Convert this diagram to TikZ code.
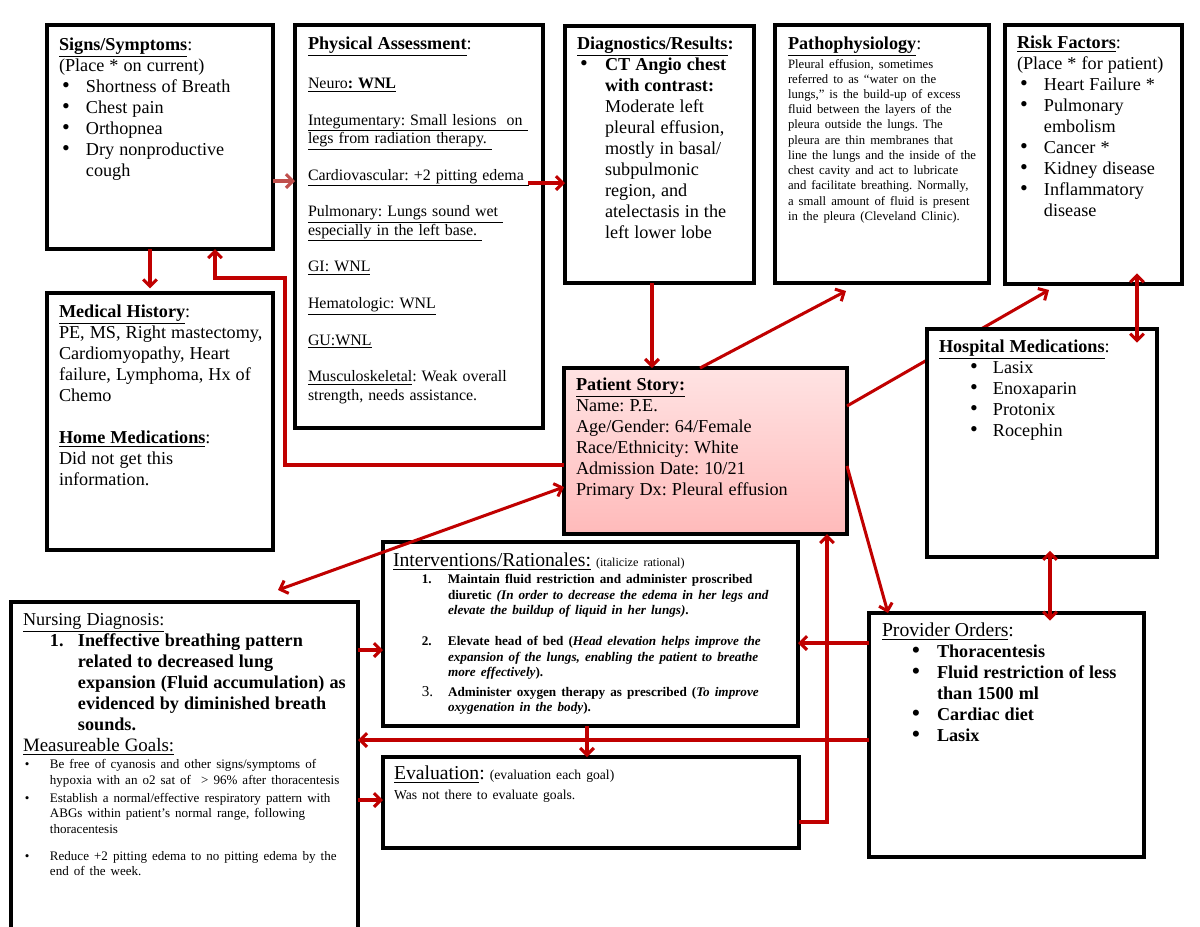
\documentclass[tikz,border=0pt]{standalone}
\usepackage{fontspec}
\setmainfont{Liberation Serif}
\usetikzlibrary{arrows.meta,fit,shadows}
\setlength{\parindent}{0pt}
\frenchspacing
\definecolor{cr}{RGB}{192,0,0}
\definecolor{cl}{RGB}{192,80,77}
\newcommand\fA{\fontsize{12}{13.86}\selectfont}
\newcommand\fT{\fontsize{13}{13.86}\selectfont}
\newcommand\fB{\fontsize{10.5}{12.1}\selectfont}
\newcommand\fC{\fontsize{9}{10.25}\selectfont}
\newcommand\fI{\fontsize{8.7}{10.25}\selectfont}
\newcommand\fG{\fontsize{8.6}{10.25}\selectfont}
\newcommand\fP{\fontsize{8.4}{10.05}\selectfont}
\newcommand\fE{\fontsize{8}{10}\selectfont}
\newcommand\uln[1]{\underline{#1}}
\newcommand\bul{\smash{\scalebox{1.22}{\textbullet}}}
\newcommand\bi[3]{\par\noindent\makebox[#2][l]{\hspace*{#1}\bul}#3}
\newcommand\bis[3]{\par\noindent\makebox[#2][l]{\hspace*{#1}\textbullet}#3}
\newcommand\contl[2]{\par\noindent\hspace*{#1}#2}
\newcommand\nitem[4]{\par\noindent\makebox[#3][l]{\hspace*{#2}#1}#4}
\begin{document}
\begin{tikzpicture}[x=0.66pt,y=-0.66pt,
  box/.style={draw=black, line width=2pt, fill=white, inner sep=0pt, outer sep=0pt},
  txt/.style={anchor=north west, inner sep=0pt, outer sep=0pt, align=left, text width=#1},
  txt/.default=140pt,
  con/.style={draw=cr, line width=2pt, -{Straight Barb[length=4.5pt,width=9pt]}},
  conl/.style={con, draw=cl},
  dcon/.style={con, {Straight Barb[length=4.5pt,width=9pt]}-{Straight Barb[length=4.5pt,width=9pt]}}]
\useasboundingbox (0,0) rectangle (1200,927);
\fill[white] (0,0) rectangle (1200,927);

% boxes
\node[box, fit={(47,25)(273,249)}] (signs) {};
\node[box, fit={(295,25)(543,428)}] (phys) {};
\node[box, fit={(565,26)(754,283)}] (diag) {};
\node[box, fit={(775,25)(989,283)}] (patho) {};
\node[box, fit={(1005,25)(1182,284)}] (risk) {};
\node[box, fit={(47,293)(273,550)}] (med) {};
\node[draw=black, line width=2pt, inner sep=0pt, outer sep=0pt, top color=red!11!white, bottom color=red!27!white,
      drop shadow={shadow xshift=1.6pt, shadow yshift=-1.6pt, fill=black!55, opacity=1},
      fit={(564,368)(847,534)}] (pat) {};
\node[box, fit={(383,542)(798,726)}] (int) {};
\node[box, fit={(11,602)(358,935)}] (nurs) {};
\node[box, fit={(383,757)(799,848)}] (eval) {};
\node[box, fit={(869,613)(1144,857)}] (prov) {};

% line from patient story to risk factors (passes behind hospital medications)
\coordinate (risktip) at (1049,290);
\draw[con] (pat.east |- 0,406) -- (risktip);
\node[box, fit={(927,329)(1157,557)}] (hosp) {};

% texts
\node[txt=138pt] (signsT) at (59,38) {\fA\uln{\textbf{Signs/Symptoms}}:\par
(Place * on current)
\bi{2pt}{17.8pt}{Shortness of Breath}
\bi{2pt}{17.8pt}{Chest pain}
\bi{2pt}{17.8pt}{Orthopnea}
\bi{2pt}{17.8pt}{Dry nonproductive}
\contl{17.8pt}{cough}\par};

\node[txt=152pt] (physT) at (308,37) {\fA\uln{\textbf{Physical Assessment}}:\par
\fB\vspace{13.6pt}
\uln{Neuro\textbf{: WNL}}\par\vspace{12.1pt}
\uln{Integumentary: Small lesions\ \ on\ }\par
\uln{legs from radiation therapy.\ }\par\vspace{12.1pt}
\uln{Cardiovascular: +2 pitting edema\ }\par\vspace{12.1pt}
\uln{Pulmonary: Lungs sound wet\ }\par
\uln{especially in the left base.\ }\par\vspace{12.1pt}
\uln{GI: WNL}\par\vspace{12.1pt}
\uln{Hematologic: WNL}\par\vspace{12.1pt}
\uln{GU:WNL}\par\vspace{12.1pt}
\uln{Musculoskeletal}: Weak overall\par
strength, needs assistance.\par};

\node[txt=114pt] (diagT) at (577,37) {\fA\uln{\textbf{Diagnostics/Results}}\textbf{:}
\bi{2pt}{18.5pt}{\textbf{CT Angio chest}}
\contl{18.5pt}{\textbf{with contrast:}}
\contl{18.5pt}{Moderate left}
\contl{18.5pt}{pleural effusion,}
\contl{18.5pt}{mostly in basal/}
\contl{18.5pt}{subpulmonic}
\contl{18.5pt}{region, and}
\contl{18.5pt}{atelectasis in the}
\contl{18.5pt}{left lower lobe}\par};

\node[txt=130pt] (pathoT) at (788,37) {\fA\uln{\textbf{Pathophysiology}}:\par
\fP\vspace{0.6pt}
Pleural effusion, sometimes\par
referred to as “water on the\par
lungs,” is the build-up of excess\par
fluid between the layers of the\par
pleura outside the lungs. The\par
pleura are thin membranes that\par
line the lungs and the inside of the\par
chest cavity and act to lubricate\par
and facilitate breathing. Normally,\par
a small amount of fluid is present\par
in the pleura (Cleveland Clinic).\par};

\node[txt=106pt] (riskT) at (1017,36) {\fA\uln{\textbf{Risk Factors}}:\par
(Place * for patient)
\bi{2pt}{17.8pt}{Heart Failure *}
\bi{2pt}{17.8pt}{Pulmonary}
\contl{17.8pt}{embolism}
\bi{2pt}{17.8pt}{Cancer *}
\bi{2pt}{17.8pt}{Kidney disease}
\bi{2pt}{17.8pt}{Inflammatory}
\contl{17.8pt}{disease}\par};

\node[txt=138pt] (medT) at (59,305) {\fA\uln{\textbf{Medical History}}:\par
PE, MS, Right mastectomy,\par
Cardiomyopathy, Heart\par
failure, Lymphoma, Hx of\par
Chemo\par\vspace{13.86pt}
\uln{\textbf{Home Medications}}:\par
Did not get this\par
information.\par};

\node[txt=176pt] (patT) at (576,378) {\fA\uln{\textbf{Patient Story:}}\par
Name: P.E.\par
Age/Gender: 64/Female\par
Race/Ethnicity: White\par
Admission Date: 10/21\par
Primary Dx: Pleural effusion\par};

\node[txt=141pt] (hospT) at (939,340) {\fA\uln{\textbf{Hospital Medications}}:
\bi{20.5pt}{35.6pt}{Lasix}
\bi{20.5pt}{35.6pt}{Enoxaparin}
\bi{20.5pt}{35.6pt}{Protonix}
\bi{20.5pt}{35.6pt}{Rocephin}\par};

\node[txt=264pt] (intT) at (393,553) {\fT\uln{Interventions/Rationales:} {\fE(italicize rational)}\par
\fI\bfseries\vspace{0.9pt}
\nitem{1.}{19pt}{36.3pt}{Maintain fluid restriction and administer proscribed}
\contl{36.3pt}{diuretic \textit{(In order to decrease the edema in her legs and}}
\contl{36.3pt}{\textit{elevate the buildup of liquid in her lungs)}.}\par\vspace{10.25pt}
\nitem{2.}{19pt}{36.3pt}{Elevate head of bed (\textit{Head elevation helps improve the}}
\contl{36.3pt}{\textit{expansion of the lungs, enabling the patient to breathe}}
\contl{36.3pt}{\textit{more effectively}).}\par\vspace{2.5pt}
\nitem{{\mdseries\fontsize{10}{10}\selectfont 3.}}{19pt}{36.3pt}{Administer oxygen therapy as prescribed (\textit{To improve}}
\contl{36.3pt}{\textit{oxygenation in the body}).}\par};

\node[txt=222pt] (nursT) at (23,613) {\fA\uln{Nursing Diagnosis:}\par
\bfseries
\nitem{1.}{17.8pt}{36.3pt}{Ineffective breathing pattern}
\contl{36.3pt}{related to decreased lung}
\contl{36.3pt}{expansion (Fluid accumulation) as}
\contl{36.3pt}{evidenced by diminished breath}
\contl{36.3pt}{sounds.}\par
\mdseries\fontsize{12.5}{13.86}\selectfont\vspace{0.6pt}
\uln{Measureable Goals:}\par
\fG\vspace{1pt}
\bis{1.3pt}{17.8pt}{Be free of cyanosis and other signs/symptoms of}
\contl{17.8pt}{hypoxia with an o2 sat of\ \ \textgreater\ 96\% after thoracentesis}\par\vspace{1.3pt}
\bis{1.3pt}{17.8pt}{Establish a normal/effective respiratory pattern with}
\contl{17.8pt}{ABGs within patient’s normal range, following}
\contl{17.8pt}{thoracentesis}\par\vspace{7.6pt}
\bis{1.3pt}{17.8pt}{Reduce +2 pitting edema to no pitting edema by the}
\contl{17.8pt}{end of the week.}\par};

\node[txt=264pt] (evalT) at (394,766) {\fT\uln{Evaluation}: {\fC(evaluation each goal)}\par
\fC\vspace{2.9pt}
Was not there to evaluate goals.\par};

\node[txt=170pt] (provT) at (882,623) {\fT\uln{Provider Orders}:\par
\fA\bfseries
\bi{19.8pt}{36.3pt}{Thoracentesis}
\bi{19.8pt}{36.3pt}{Fluid restriction of less}
\contl{36.3pt}{than 1500 ml}
\bi{19.8pt}{36.3pt}{Cardiac diet}
\bi{19.8pt}{36.3pt}{Lasix}\par};

% connectors
\draw[conl] (signs.east |- 0,181) -- (phys.west |- 0,181);
\draw[con, shorten <=-10pt] (phys.east |- 0,183) -- (diag.west |- 0,183);
\draw[con, shorten >=3pt] (signs.south -| 150,0) -- (med.north -| 150,0);
\draw[con] (pat.west |- 0,465) -| (285,278) -| (signs.south -| 215,0);
\draw[con] (diag.south -| 652,0) -- (pat.north -| 652,0);
\coordinate (pathtip) at (846,291);
\draw[con] (pat.north -| 700,0) -- (pathtip);
\draw[dcon, shorten <=-7pt, shorten >=-9pt] (risk.south -| 1137,0) -- (hosp.north -| 1137,0);
\draw[dcon, shorten <=-4pt, shorten >=-5pt] (hosp.south -| 1050,0) -- (prov.north -| 1050,0);
\draw[con] (pat.east |- 0,466) -- (prov.north -| 888,0);
\coordinate (ndtip) at (278,590);
\draw[dcon] (pat.west |- 0,487) -- (ndtip);
\draw[con] (eval.east |- 0,822) -| (pat.south -| 827,0);
\draw[con] (prov.west |- 0,643) -- (int.east |- 0,643);
\draw[con] (prov.west |- 0,740) -- (nurs.east |- 0,740);
\draw[con] (int.south -| 587,0) -- (eval.north -| 587,0);
\draw[con] (nurs.east |- 0,650) -- (int.west |- 0,650);
\draw[con] (nurs.east |- 0,800) -- (eval.west |- 0,800);
\end{tikzpicture}
\end{document}
